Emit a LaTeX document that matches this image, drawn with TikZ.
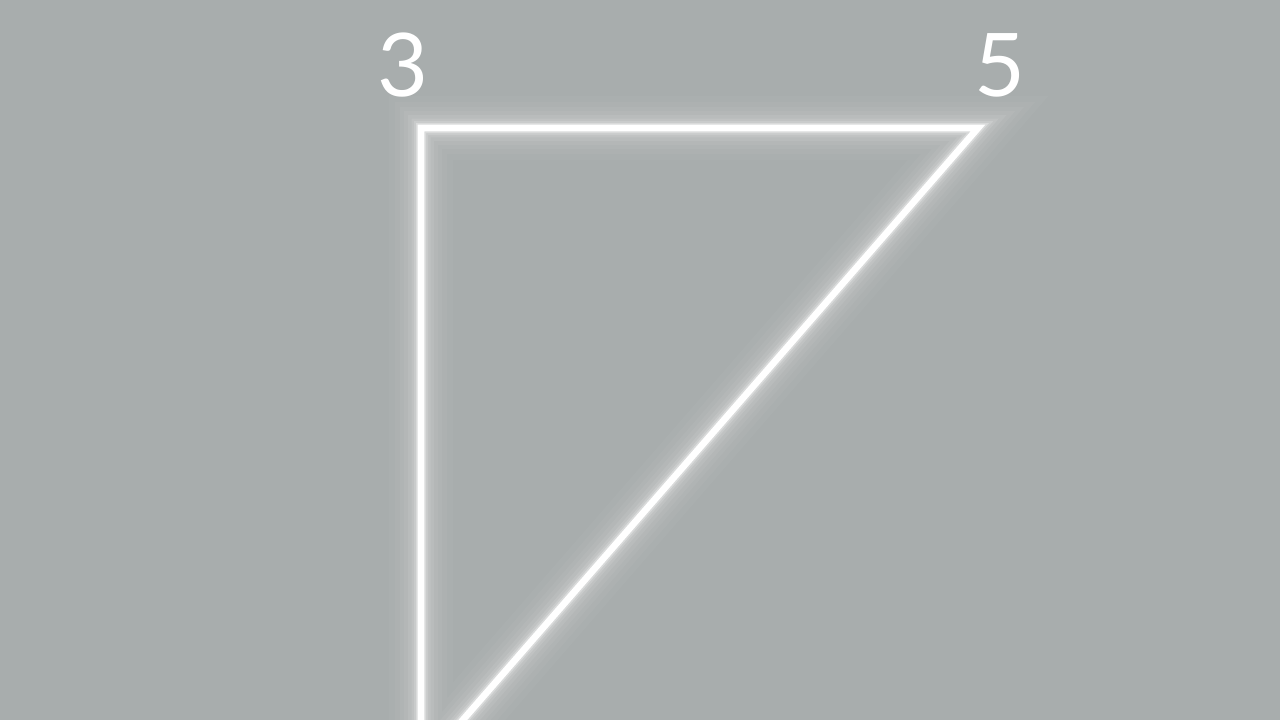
\documentclass[tikz,border=0pt]{standalone}
\usepackage{fontspec}
\setmainfont{Lato}
\usetikzlibrary{positioning}
\definecolor{bggray}{RGB}{168,173,173}
\tikzset{
  glowline/.style={white, line cap=round, line join=miter},
  numlabel/.style={draw=none, text=white, font=\fontsize{50}{60}\selectfont, inner sep=0pt}
}

\begin{document}
\begin{tikzpicture}[x=0.02cm, y=-0.02cm]

% frame
\fill[bggray] (0,0) rectangle (1280,720);
\useasboundingbox (0,0) rectangle (1280,720);
\clip (0,0) rectangle (1280,720);

% corners
\coordinate (A) at (421,128);
\coordinate (B) at (978,128);
\coordinate (C) at (421,760);
\coordinate (D) at (428,760);

% labels
\node[numlabel] (n3) at (403,65) {3};
\node[numlabel] (n5) at (1000,65) {5};

% glow
\foreach \w/\o in {64/0.03, 52/0.035, 42/0.04, 34/0.05, 26/0.07, 19/0.1, 14/0.15, 10/0.3} {
  \draw[glowline, opacity=\o, line width=\w*0.569pt] (C) -- (A) -- (B) -- (D);
}

% lines
\draw[glowline, line width=3.8pt] (C) -- (A) -- (B) -- (D);

\end{tikzpicture}
\end{document}
